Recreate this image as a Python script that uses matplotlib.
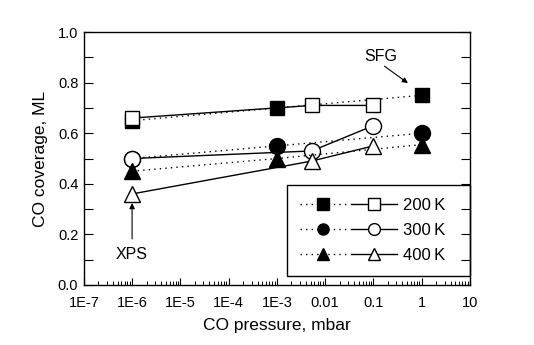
import matplotlib
matplotlib.use("Agg")
import matplotlib.pyplot as plt
from matplotlib.lines import Line2D
from matplotlib.legend_handler import HandlerTuple
from matplotlib.ticker import LogLocator, FixedLocator, FixedFormatter, MultipleLocator

plt.rcParams["font.family"] = ["Liberation Sans", "DejaVu Sans"]
plt.rcParams["font.size"] = 10.5

# filled symbols: dotted series, open symbols: solid series
p_filled = [1e-6, 1e-3, 1.0]
p_open = [1e-6, 5.3e-3, 0.1]

cov_filled = {
    "200 K": [0.65, 0.70, 0.75],
    "300 K": [0.50, 0.55, 0.60],
    "400 K": [0.45, 0.50, 0.555],
}
cov_open = {
    "200 K": [0.66, 0.71, 0.71],
    "300 K": [0.50, 0.53, 0.63],
    "400 K": [0.36, 0.49, 0.55],
}
labels = ["200\u2009K", "300\u2009K", "400\u2009K"]
markers = {"200 K": "s", "300 K": "o", "400 K": "^"}
msizes = {"200 K": 10, "300 K": 11.5, "400 K": 11.5}

x_ticks = [1e-7, 1e-6, 1e-5, 1e-4, 1e-3, 1e-2, 1e-1, 1, 10]
x_labels = ["1E-7", "1E-6", "1E-5", "1E-4", "1E-3", "0.01", "0.1", "1", "10"]

fig = plt.figure(figsize=(5.34, 3.45), dpi=100)
ax = fig.add_axes([0.157, 0.174, 0.723, 0.733])

dotted = (0, (1, 3))
handles = []
for key in cov_filled:
    m = markers[key]
    ax.plot(p_filled, cov_filled[key], linestyle=dotted, color="black", lw=1,
            marker=m, ms=msizes[key], mfc="black", mec="black")
    ax.plot(p_open, cov_open[key], linestyle="-", color="black", lw=1,
            marker=m, ms=msizes[key], mfc="white", mec="black", mew=1)
    h_f = Line2D([], [], linestyle=dotted, color="black", lw=1, marker=m,
                 ms=8, mfc="black", mec="black")
    h_o = Line2D([], [], linestyle="-", color="black", lw=1, marker=m,
                 ms=8.5, mfc="white", mec="black")
    handles.append((h_f, h_o))

ax.set_xscale("log")
ax.set_xlim(1e-7, 10)
ax.set_ylim(0.0, 1.0)
ax.xaxis.set_major_locator(FixedLocator(x_ticks))
ax.xaxis.set_major_formatter(FixedFormatter(x_labels))
ax.xaxis.set_minor_locator(LogLocator(base=10, subs=range(2, 10), numticks=20))
ax.xaxis.set_minor_formatter(FixedFormatter([]))
ax.yaxis.set_major_locator(MultipleLocator(0.2))
ax.yaxis.set_minor_locator(MultipleLocator(0.1))
ax.yaxis.set_major_formatter(lambda v, pos: f"{v:.1f}")

ax.tick_params(axis="x", which="major", direction="in", length=5, width=0.8, pad=8)
ax.tick_params(axis="x", which="minor", direction="in", length=3, width=0.7)
ax.tick_params(axis="y", which="both", direction="in", length=6.5, width=0.8,
               right=True, pad=4)
for s in ax.spines.values():
    s.set_linewidth(1)

ax.set_xlabel("CO pressure, mbar", fontsize=12.5, labelpad=6)
ax.set_ylabel("CO coverage, ML", fontsize=12.5, labelpad=7)

leg_w = 0.474
leg = ax.legend(handles, labels,
                handler_map={tuple: HandlerTuple(ndivide=None, pad=0.3)},
                loc="lower right", bbox_to_anchor=(1.0 - leg_w, 0.036, leg_w, 0.3),
                mode="expand", borderaxespad=0, fancybox=False,
                edgecolor="black", framealpha=1, handlelength=5.8,
                handletextpad=0.35, labelspacing=0.58, borderpad=0.8,
                fontsize=12)
leg.get_frame().set_linewidth(1)
# keep the right-hand ticks (zorder 1.5) visible over the legend box
leg.set_zorder(1.2)

# annotation labels with arrows
ax.text(0.143, 0.905, "SFG", ha="center", va="center", fontsize=11.5)
ax.annotate("", xy=(0.52, 0.798), xytext=(0.17, 0.865),
            arrowprops=dict(arrowstyle="-|>", color="black", lw=0.8,
                            mutation_scale=8, shrinkA=0, shrinkB=0))
ax.text(1e-6, 0.119, "XPS", ha="center", va="center", fontsize=11.5)
ax.annotate("", xy=(1e-6, 0.324), xytext=(1e-6, 0.182),
            arrowprops=dict(arrowstyle="-|>", color="black", lw=0.8,
                            mutation_scale=8, shrinkA=0, shrinkB=0))

fig.savefig("out.png", dpi=100)
